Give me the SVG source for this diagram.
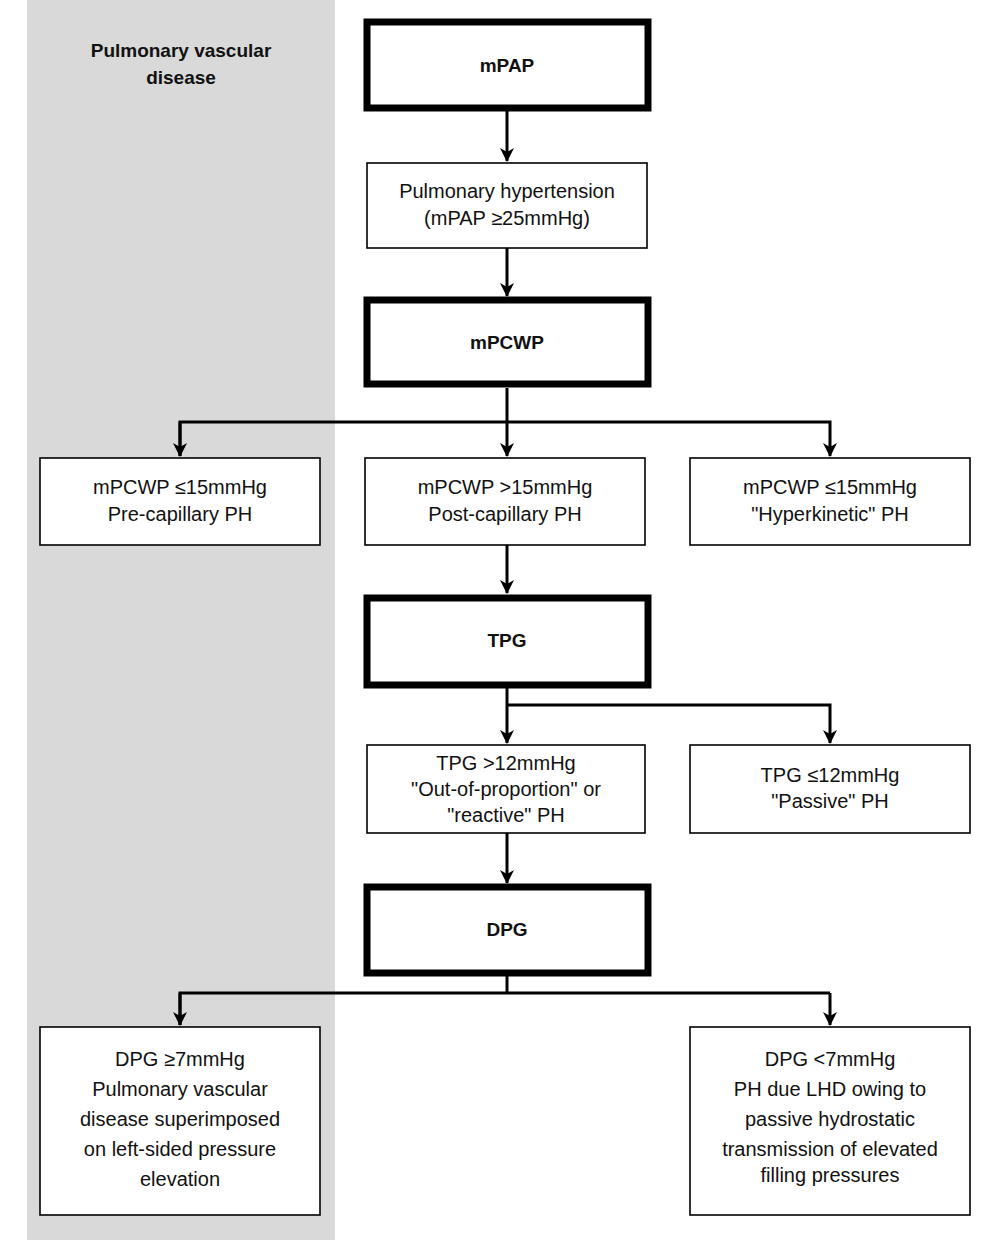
<svg xmlns="http://www.w3.org/2000/svg" width="1005" height="1240" viewBox="0 0 1005 1240">
<style>
text{font-family:"Liberation Sans",Arial,sans-serif;font-size:20px;fill:#111;text-anchor:middle}
.b{font-weight:bold;font-size:19px}
.thick{fill:#fff;stroke:#000;stroke-width:7}
.thin{fill:#fff;stroke:#000;stroke-width:1.6}
.c{fill:none;stroke:#000;stroke-width:3}
</style>
<defs><marker id="a" viewBox="0 0 14 14" refX="13" refY="7" markerWidth="14" markerHeight="14" markerUnits="userSpaceOnUse" orient="auto"><path d="M0,0 L14,7 L0,14 L4,7 Z" fill="#000"/></marker></defs>
<rect width="1005" height="1240" fill="#fff"/>
<rect x="27" y="0" width="308" height="1240" fill="#d9d9d9"/>
<text class="b" x="181" y="57">Pulmonary vascular</text>
<text class="b" x="181" y="84">disease</text>
<g id="connectors">
<path class="c" d="M507,110 V161" marker-end="url(#a)"/>
<path class="c" d="M507,248 V296" marker-end="url(#a)"/>
<path class="c" d="M507,388 V456" marker-end="url(#a)"/>
<path class="c" d="M180,456 V422 H830 V456" marker-start="url(#a)" marker-end="url(#a)" style="marker-start:none"/>
<path class="c" d="M180,422 V456" marker-end="url(#a)"/>
<path class="c" d="M507,545 V593" marker-end="url(#a)"/>
<path class="c" d="M507,688 V743" marker-end="url(#a)"/>
<path class="c" d="M507,705 H830 V743" marker-end="url(#a)"/>
<path class="c" d="M507,833 V883" marker-end="url(#a)"/>
<path class="c" d="M507,975 V993"/>
<path class="c" d="M180,1025 V993 H830" />
<path class="c" d="M180,993 V1025" marker-end="url(#a)"/>
<path class="c" d="M830,993 V1025" marker-end="url(#a)"/>
</g>
<g id="mPAP"><rect class="thick" x="367" y="22" width="281" height="86"/><text class="b" x="507" y="72">mPAP</text></g>
<g id="PH"><rect class="thin" x="367" y="163" width="280" height="85"/><text x="507" y="198">Pulmonary hypertension</text><text x="507" y="225">(mPAP ≥25mmHg)</text></g>
<g id="mPCWP"><rect class="thick" x="367" y="300" width="281" height="84"/><text class="b" x="507" y="349">mPCWP</text></g>
<g id="pre"><rect class="thin" x="40" y="458" width="280" height="87"/><text x="180" y="494">mPCWP ≤15mmHg</text><text x="180" y="521">Pre-capillary PH</text></g>
<g id="post"><rect class="thin" x="365" y="458" width="280" height="87"/><text x="505" y="494">mPCWP &gt;15mmHg</text><text x="505" y="521">Post-capillary PH</text></g>
<g id="hyper"><rect class="thin" x="690" y="458" width="280" height="87"/><text x="830" y="494">mPCWP ≤15mmHg</text><text x="830" y="521">"Hyperkinetic" PH</text></g>
<g id="TPG"><rect class="thick" x="367" y="598" width="281" height="87"/><text class="b" x="507" y="647">TPG</text></g>
<g id="tpg12"><rect class="thin" x="367" y="745" width="278" height="88"/><text x="506" y="770">TPG &gt;12mmHg</text><text x="506" y="796">"Out-of-proportion" or</text><text x="506" y="822">"reactive" PH</text></g>
<g id="passive"><rect class="thin" x="690" y="745" width="280" height="88"/><text x="830" y="782">TPG ≤12mmHg</text><text x="830" y="808">"Passive" PH</text></g>
<g id="DPG"><rect class="thick" x="367" y="887" width="281" height="86"/><text class="b" x="507" y="936">DPG</text></g>
<g id="dpg7"><rect class="thin" x="40" y="1027" width="280" height="188"/><text x="180" y="1066">DPG ≥7mmHg</text><text x="180" y="1096">Pulmonary vascular</text><text x="180" y="1126">disease superimposed</text><text x="180" y="1156">on left-sided pressure</text><text x="180" y="1186">elevation</text></g>
<g id="dpglt7"><rect class="thin" x="690" y="1027" width="280" height="188"/><text x="830" y="1066">DPG &lt;7mmHg</text><text x="830" y="1096">PH due LHD owing to</text><text x="830" y="1126">passive hydrostatic</text><text x="830" y="1156">transmission of elevated</text><text x="830" y="1182">filling pressures</text></g>
</svg>
